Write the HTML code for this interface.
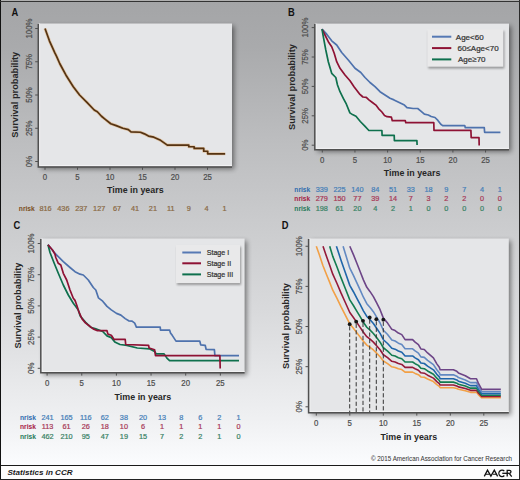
<!DOCTYPE html><html><head><meta charset="utf-8"><style>html,body{margin:0;padding:0;width:520px;height:480px;overflow:hidden;background:#fff}svg{display:block}text{font-family:"Liberation Sans",sans-serif}</style></head><body>
<svg width="520" height="480" viewBox="0 0 520 480">
<defs><linearGradient id="bg" x1="0" y1="0" x2="0" y2="1"><stop offset="0" stop-color="#a4a5a7"/><stop offset="0.1" stop-color="#a9aaac"/><stop offset="0.31" stop-color="#bdbec0"/><stop offset="0.54" stop-color="#cfd0d2"/><stop offset="0.675" stop-color="#d9dadc"/><stop offset="0.9" stop-color="#eff0f2"/><stop offset="0.957" stop-color="#f6f7f9"/><stop offset="1.0" stop-color="#fbfcfe"/></linearGradient><filter id="sh" x="-10%" y="-10%" width="130%" height="130%"><feGaussianBlur stdDeviation="2.5"/></filter><filter id="sh2" x="-10%" y="-10%" width="130%" height="130%"><feGaussianBlur stdDeviation="1.2"/></filter></defs>
<rect x="0" y="0" width="520" height="465" fill="url(#bg)"/>
<rect x="0" y="465" width="520" height="15" fill="#fdfdfd"/>
<rect x="40.9" y="26" width="193.3" height="143.1" fill="#000" opacity="0.45" filter="url(#sh)"/>
<rect x="38.7" y="23.5" width="193.3" height="143.1" fill="#e5e6e8"/>
<path d="M39.6 23.5 V165.6 H232" stroke="#f6f6f7" stroke-width="0.8" fill="none"/>
<path d="M38.3 24 V167 H232" stroke="#505050" stroke-width="1.5" fill="none"/>
<path d="M35.2 161.5 H38.2" stroke="#505050" stroke-width="1"/>
<text x="31.5" y="161.5" font-size="8.8" fill="#4d4d4d" font-weight="normal" text-anchor="middle" transform="rotate(-90 31.5 161.5)" textLength="11.32" lengthAdjust="spacingAndGlyphs" stroke="#4d4d4d" stroke-width="0.22">0%</text>
<path d="M35.2 128.25 H38.2" stroke="#505050" stroke-width="1"/>
<text x="31.5" y="128.25" font-size="8.8" fill="#4d4d4d" font-weight="normal" text-anchor="middle" transform="rotate(-90 31.5 128.25)" textLength="15.68" lengthAdjust="spacingAndGlyphs" stroke="#4d4d4d" stroke-width="0.22">25%</text>
<path d="M35.2 95 H38.2" stroke="#505050" stroke-width="1"/>
<text x="31.5" y="95" font-size="8.8" fill="#4d4d4d" font-weight="normal" text-anchor="middle" transform="rotate(-90 31.5 95)" textLength="15.68" lengthAdjust="spacingAndGlyphs" stroke="#4d4d4d" stroke-width="0.22">50%</text>
<path d="M35.2 61.75 H38.2" stroke="#505050" stroke-width="1"/>
<text x="31.5" y="61.75" font-size="8.8" fill="#4d4d4d" font-weight="normal" text-anchor="middle" transform="rotate(-90 31.5 61.75)" textLength="15.68" lengthAdjust="spacingAndGlyphs" stroke="#4d4d4d" stroke-width="0.22">75%</text>
<path d="M35.2 28.5 H38.2" stroke="#505050" stroke-width="1"/>
<text x="31.5" y="28.5" font-size="8.8" fill="#4d4d4d" font-weight="normal" text-anchor="middle" transform="rotate(-90 31.5 28.5)" textLength="20.03" lengthAdjust="spacingAndGlyphs" stroke="#4d4d4d" stroke-width="0.22">100%</text>
<path d="M45 167.2 V169.8" stroke="#505050" stroke-width="1"/>
<text x="45" y="179.65" font-size="8.8" fill="#4d4d4d" font-weight="normal" text-anchor="middle" textLength="4.36" lengthAdjust="spacingAndGlyphs" stroke="#4d4d4d" stroke-width="0.22">0</text>
<path d="M77.5 167.2 V169.8" stroke="#505050" stroke-width="1"/>
<text x="77.5" y="179.65" font-size="8.8" fill="#4d4d4d" font-weight="normal" text-anchor="middle" textLength="4.36" lengthAdjust="spacingAndGlyphs" stroke="#4d4d4d" stroke-width="0.22">5</text>
<path d="M110 167.2 V169.8" stroke="#505050" stroke-width="1"/>
<text x="110" y="179.65" font-size="8.8" fill="#4d4d4d" font-weight="normal" text-anchor="middle" textLength="8.71" lengthAdjust="spacingAndGlyphs" stroke="#4d4d4d" stroke-width="0.22">10</text>
<path d="M142.5 167.2 V169.8" stroke="#505050" stroke-width="1"/>
<text x="142.5" y="179.65" font-size="8.8" fill="#4d4d4d" font-weight="normal" text-anchor="middle" textLength="8.71" lengthAdjust="spacingAndGlyphs" stroke="#4d4d4d" stroke-width="0.22">15</text>
<path d="M175 167.2 V169.8" stroke="#505050" stroke-width="1"/>
<text x="175" y="179.65" font-size="8.8" fill="#4d4d4d" font-weight="normal" text-anchor="middle" textLength="8.71" lengthAdjust="spacingAndGlyphs" stroke="#4d4d4d" stroke-width="0.22">20</text>
<path d="M207.5 167.2 V169.8" stroke="#505050" stroke-width="1"/>
<text x="207.5" y="179.65" font-size="8.8" fill="#4d4d4d" font-weight="normal" text-anchor="middle" textLength="8.71" lengthAdjust="spacingAndGlyphs" stroke="#4d4d4d" stroke-width="0.22">25</text>
<text x="135.35" y="193" font-size="8.9" fill="#262626" font-weight="bold" text-anchor="middle">Time in years</text>
<text x="17.9" y="94.75" font-size="9.25" fill="#262626" font-weight="bold" text-anchor="middle" transform="rotate(-90 17.9 94.75)">Survival probability</text>
<text x="11.5" y="15.7" font-size="10.6" fill="#111" font-weight="bold" text-anchor="start" textLength="6.74" lengthAdjust="spacingAndGlyphs">A</text>
<polyline points="45,28.5 49.42,40.8 54.62,52.31 56.7,56.56 59.82,63.75 66,75.18 73.28,86.75 79.58,95 86.93,102.31 94.2,110.03 97.33,111.76 101.48,116.28 105.58,119.6 110.78,123.73 116.17,125.59 122.87,128.25 128.33,129.58 131,131.84 140.42,132.24 144.38,133.84 148.48,136.1 153.81,137.16 160.57,140.35 167.33,145.14 188.78,145.14 188.78,146.74 194.17,146.74 194.17,148.47 203.73,148.47 203.73,151.26 207.69,151.26 207.69,153.79 225.18,153.79" fill="none" stroke="#e0a868" stroke-width="3.1" stroke-linejoin="round" opacity="0.5"/>
<polyline points="45,28.5 49.42,40.8 54.62,52.31 56.7,56.56 59.82,63.75 66,75.18 73.28,86.75 79.58,95 86.93,102.31 94.2,110.03 97.33,111.76 101.48,116.28 105.58,119.6 110.78,123.73 116.17,125.59 122.87,128.25 128.33,129.58 131,131.84 140.42,132.24 144.38,133.84 148.48,136.1 153.81,137.16 160.57,140.35 167.33,145.14 188.78,145.14 188.78,146.74 194.17,146.74 194.17,148.47 203.73,148.47 203.73,151.26 207.69,151.26 207.69,153.79 225.18,153.79" fill="none" stroke="#553312" stroke-width="1.7" stroke-linejoin="round" stroke-linecap="butt"/>
<text x="18.8" y="211.08" font-size="6.7" fill="#7a4e22" font-weight="bold" text-anchor="start">nrisk</text>
<text x="45.5" y="211.06" font-size="7.3" fill="#8a6a45" font-weight="normal" text-anchor="middle" stroke="#8a6a45" stroke-width="0.22">816</text>
<text x="63.4" y="211.06" font-size="7.3" fill="#8a6a45" font-weight="normal" text-anchor="middle" stroke="#8a6a45" stroke-width="0.22">436</text>
<text x="81.3" y="211.06" font-size="7.3" fill="#8a6a45" font-weight="normal" text-anchor="middle" stroke="#8a6a45" stroke-width="0.22">237</text>
<text x="99.2" y="211.06" font-size="7.3" fill="#8a6a45" font-weight="normal" text-anchor="middle" stroke="#8a6a45" stroke-width="0.22">127</text>
<text x="117.1" y="211.06" font-size="7.3" fill="#8a6a45" font-weight="normal" text-anchor="middle" stroke="#8a6a45" stroke-width="0.22">67</text>
<text x="135" y="211.06" font-size="7.3" fill="#8a6a45" font-weight="normal" text-anchor="middle" stroke="#8a6a45" stroke-width="0.22">41</text>
<text x="152.9" y="211.06" font-size="7.3" fill="#8a6a45" font-weight="normal" text-anchor="middle" stroke="#8a6a45" stroke-width="0.22">21</text>
<text x="170.8" y="211.06" font-size="7.3" fill="#8a6a45" font-weight="normal" text-anchor="middle" stroke="#8a6a45" stroke-width="0.22">11</text>
<text x="188.7" y="211.06" font-size="7.3" fill="#8a6a45" font-weight="normal" text-anchor="middle" stroke="#8a6a45" stroke-width="0.22">9</text>
<text x="206.6" y="211.06" font-size="7.3" fill="#8a6a45" font-weight="normal" text-anchor="middle" stroke="#8a6a45" stroke-width="0.22">4</text>
<text x="224.5" y="211.06" font-size="7.3" fill="#8a6a45" font-weight="normal" text-anchor="middle" stroke="#8a6a45" stroke-width="0.22">1</text>
<rect x="317.4" y="26.1" width="193.8" height="125.7" fill="#000" opacity="0.45" filter="url(#sh)"/>
<rect x="315.2" y="23.6" width="193.8" height="125.7" fill="#e5e6e8"/>
<path d="M316.1 23.6 V148.3 H509" stroke="#f6f6f7" stroke-width="0.8" fill="none"/>
<path d="M314.8 24.1 V149.7 H509" stroke="#505050" stroke-width="1.5" fill="none"/>
<path d="M311.7 145.2 H314.7" stroke="#505050" stroke-width="1"/>
<text x="308.15" y="145.2" font-size="8.8" fill="#4d4d4d" font-weight="normal" text-anchor="middle" transform="rotate(-90 308.15 145.2)" textLength="11.32" lengthAdjust="spacingAndGlyphs" stroke="#4d4d4d" stroke-width="0.22">0%</text>
<path d="M311.7 115.8 H314.7" stroke="#505050" stroke-width="1"/>
<text x="308.15" y="115.8" font-size="8.8" fill="#4d4d4d" font-weight="normal" text-anchor="middle" transform="rotate(-90 308.15 115.8)" textLength="15.68" lengthAdjust="spacingAndGlyphs" stroke="#4d4d4d" stroke-width="0.22">25%</text>
<path d="M311.7 86.4 H314.7" stroke="#505050" stroke-width="1"/>
<text x="308.15" y="86.4" font-size="8.8" fill="#4d4d4d" font-weight="normal" text-anchor="middle" transform="rotate(-90 308.15 86.4)" textLength="15.68" lengthAdjust="spacingAndGlyphs" stroke="#4d4d4d" stroke-width="0.22">50%</text>
<path d="M311.7 57 H314.7" stroke="#505050" stroke-width="1"/>
<text x="308.15" y="57" font-size="8.8" fill="#4d4d4d" font-weight="normal" text-anchor="middle" transform="rotate(-90 308.15 57)" textLength="15.68" lengthAdjust="spacingAndGlyphs" stroke="#4d4d4d" stroke-width="0.22">75%</text>
<path d="M311.7 27.6 H314.7" stroke="#505050" stroke-width="1"/>
<text x="308.15" y="27.6" font-size="8.8" fill="#4d4d4d" font-weight="normal" text-anchor="middle" transform="rotate(-90 308.15 27.6)" textLength="20.03" lengthAdjust="spacingAndGlyphs" stroke="#4d4d4d" stroke-width="0.22">100%</text>
<path d="M322.3 149.9 V152.5" stroke="#505050" stroke-width="1"/>
<text x="322.3" y="162.95" font-size="8.8" fill="#4d4d4d" font-weight="normal" text-anchor="middle" textLength="4.36" lengthAdjust="spacingAndGlyphs" stroke="#4d4d4d" stroke-width="0.22">0</text>
<path d="M354.95 149.9 V152.5" stroke="#505050" stroke-width="1"/>
<text x="354.95" y="162.95" font-size="8.8" fill="#4d4d4d" font-weight="normal" text-anchor="middle" textLength="4.36" lengthAdjust="spacingAndGlyphs" stroke="#4d4d4d" stroke-width="0.22">5</text>
<path d="M387.6 149.9 V152.5" stroke="#505050" stroke-width="1"/>
<text x="387.6" y="162.95" font-size="8.8" fill="#4d4d4d" font-weight="normal" text-anchor="middle" textLength="8.71" lengthAdjust="spacingAndGlyphs" stroke="#4d4d4d" stroke-width="0.22">10</text>
<path d="M420.25 149.9 V152.5" stroke="#505050" stroke-width="1"/>
<text x="420.25" y="162.95" font-size="8.8" fill="#4d4d4d" font-weight="normal" text-anchor="middle" textLength="8.71" lengthAdjust="spacingAndGlyphs" stroke="#4d4d4d" stroke-width="0.22">15</text>
<path d="M452.9 149.9 V152.5" stroke="#505050" stroke-width="1"/>
<text x="452.9" y="162.95" font-size="8.8" fill="#4d4d4d" font-weight="normal" text-anchor="middle" textLength="8.71" lengthAdjust="spacingAndGlyphs" stroke="#4d4d4d" stroke-width="0.22">20</text>
<path d="M485.55 149.9 V152.5" stroke="#505050" stroke-width="1"/>
<text x="485.55" y="162.95" font-size="8.8" fill="#4d4d4d" font-weight="normal" text-anchor="middle" textLength="8.71" lengthAdjust="spacingAndGlyphs" stroke="#4d4d4d" stroke-width="0.22">25</text>
<text x="412.1" y="175.8" font-size="8.9" fill="#262626" font-weight="bold" text-anchor="middle">Time in years</text>
<text x="294.6" y="87.05" font-size="9.25" fill="#262626" font-weight="bold" text-anchor="middle" transform="rotate(-90 294.6 87.05)">Survival probability</text>
<text x="288" y="15.6" font-size="10.6" fill="#111" font-weight="bold" text-anchor="start" textLength="6.74" lengthAdjust="spacingAndGlyphs">B</text>
<polyline points="322,29.2 326.7,34.2 331.7,40.8 336.7,45 341.7,52.5 348.3,60 355,68.3 360.8,72.5 365,77.5 370,82.5 375,86.7 380,91.7 385,95 390,98.3 394,99.9 399.2,102.5 404.4,105.1 407,107.7 413.1,108.5 417.7,108.5 420.6,110.8 424.4,114.2 428.3,115 431.2,116.5 435,117.5 437.9,120.4 440.8,124.2 442.7,125.6 464.8,125.6 465.3,127.7 484.3,127.7 484.6,132.3 500.4,132.3" fill="none" stroke="#4e72ad" stroke-width="1.7" stroke-linejoin="round"/>
<polyline points="322,29.2 325,35 328.3,41.7 331.7,46.7 334.2,53.3 336.7,61.7 340,68.3 345,75 350,80.8 354.2,86.9 359.4,93.8 362.9,97 366.3,97.3 368.9,99.9 372.4,102.5 375.9,105.1 378.5,108.6 381.9,112 384.5,115.5 387.1,116.7 391.4,117.2 392.3,120.7 405.3,120.7 405.8,122.7 433.8,122.7 434,130.4 470.9,130.4 471.2,137.7 479,137.7 479.2,145.4" fill="none" stroke="#8e1234" stroke-width="1.7" stroke-linejoin="round"/>
<polyline points="322,29.2 323.3,36.7 325.8,50 328.3,61.7 331.7,73.3 335.8,77.5 337.5,85 340,91.7 343.3,98.3 346.4,104.2 349.9,112.9 352.5,114.6 356,116.3 360.3,121.5 364.6,125.9 368.9,130.5 381.9,130.5 382.1,135.4 394.2,135.4 394.4,140.6 416.9,140.6 417.1,145" fill="none" stroke="#0e704d" stroke-width="1.7" stroke-linejoin="round"/>
<rect x="428.3" y="31" width="76" height="37.5" fill="#000" opacity="0.35" filter="url(#sh2)"/>
<rect x="427.3" y="29.2" width="76" height="37.5" fill="#e9e9ea"/>
<path d="M432 36.7 H451.3" stroke="#5679b4" stroke-width="2"/>
<text x="455.8" y="39.58" font-size="8" fill="#333" font-weight="normal" text-anchor="start" stroke="#333" stroke-width="0.22">Age&lt;60</text>
<path d="M432 48.1 H451.3" stroke="#8e1234" stroke-width="2"/>
<text x="457.5" y="50.98" font-size="8" fill="#333" font-weight="normal" text-anchor="start" stroke="#333" stroke-width="0.22">60≤Age&lt;70</text>
<path d="M432 59.4 H451.3" stroke="#0e704d" stroke-width="2"/>
<text x="458" y="62.28" font-size="8" fill="#333" font-weight="normal" text-anchor="start" stroke="#333" stroke-width="0.22">Age≥70</text>
<text x="294.3" y="191.53" font-size="6.7" fill="#2f6cae" font-weight="bold" text-anchor="start">nrisk</text>
<text x="321.8" y="191.51" font-size="7.3" fill="#4680b8" font-weight="normal" text-anchor="middle" stroke="#4680b8" stroke-width="0.22">339</text>
<text x="339.6" y="191.51" font-size="7.3" fill="#4680b8" font-weight="normal" text-anchor="middle" stroke="#4680b8" stroke-width="0.22">225</text>
<text x="357.4" y="191.51" font-size="7.3" fill="#4680b8" font-weight="normal" text-anchor="middle" stroke="#4680b8" stroke-width="0.22">140</text>
<text x="375.2" y="191.51" font-size="7.3" fill="#4680b8" font-weight="normal" text-anchor="middle" stroke="#4680b8" stroke-width="0.22">84</text>
<text x="393" y="191.51" font-size="7.3" fill="#4680b8" font-weight="normal" text-anchor="middle" stroke="#4680b8" stroke-width="0.22">51</text>
<text x="410.8" y="191.51" font-size="7.3" fill="#4680b8" font-weight="normal" text-anchor="middle" stroke="#4680b8" stroke-width="0.22">33</text>
<text x="428.6" y="191.51" font-size="7.3" fill="#4680b8" font-weight="normal" text-anchor="middle" stroke="#4680b8" stroke-width="0.22">18</text>
<text x="446.4" y="191.51" font-size="7.3" fill="#4680b8" font-weight="normal" text-anchor="middle" stroke="#4680b8" stroke-width="0.22">9</text>
<text x="464.2" y="191.51" font-size="7.3" fill="#4680b8" font-weight="normal" text-anchor="middle" stroke="#4680b8" stroke-width="0.22">7</text>
<text x="482" y="191.51" font-size="7.3" fill="#4680b8" font-weight="normal" text-anchor="middle" stroke="#4680b8" stroke-width="0.22">4</text>
<text x="499.8" y="191.51" font-size="7.3" fill="#4680b8" font-weight="normal" text-anchor="middle" stroke="#4680b8" stroke-width="0.22">1</text>
<text x="294.3" y="201.43" font-size="6.7" fill="#a51c45" font-weight="bold" text-anchor="start">nrisk</text>
<text x="321.8" y="201.41" font-size="7.3" fill="#a83a58" font-weight="normal" text-anchor="middle" stroke="#a83a58" stroke-width="0.22">279</text>
<text x="339.6" y="201.41" font-size="7.3" fill="#a83a58" font-weight="normal" text-anchor="middle" stroke="#a83a58" stroke-width="0.22">150</text>
<text x="357.4" y="201.41" font-size="7.3" fill="#a83a58" font-weight="normal" text-anchor="middle" stroke="#a83a58" stroke-width="0.22">77</text>
<text x="375.2" y="201.41" font-size="7.3" fill="#a83a58" font-weight="normal" text-anchor="middle" stroke="#a83a58" stroke-width="0.22">39</text>
<text x="393" y="201.41" font-size="7.3" fill="#a83a58" font-weight="normal" text-anchor="middle" stroke="#a83a58" stroke-width="0.22">14</text>
<text x="410.8" y="201.41" font-size="7.3" fill="#a83a58" font-weight="normal" text-anchor="middle" stroke="#a83a58" stroke-width="0.22">7</text>
<text x="428.6" y="201.41" font-size="7.3" fill="#a83a58" font-weight="normal" text-anchor="middle" stroke="#a83a58" stroke-width="0.22">3</text>
<text x="446.4" y="201.41" font-size="7.3" fill="#a83a58" font-weight="normal" text-anchor="middle" stroke="#a83a58" stroke-width="0.22">2</text>
<text x="464.2" y="201.41" font-size="7.3" fill="#a83a58" font-weight="normal" text-anchor="middle" stroke="#a83a58" stroke-width="0.22">2</text>
<text x="482" y="201.41" font-size="7.3" fill="#a83a58" font-weight="normal" text-anchor="middle" stroke="#a83a58" stroke-width="0.22">0</text>
<text x="499.8" y="201.41" font-size="7.3" fill="#a83a58" font-weight="normal" text-anchor="middle" stroke="#a83a58" stroke-width="0.22">0</text>
<text x="294.3" y="211.33" font-size="6.7" fill="#277a5a" font-weight="bold" text-anchor="start">nrisk</text>
<text x="321.8" y="211.31" font-size="7.3" fill="#3a8366" font-weight="normal" text-anchor="middle" stroke="#3a8366" stroke-width="0.22">198</text>
<text x="339.6" y="211.31" font-size="7.3" fill="#3a8366" font-weight="normal" text-anchor="middle" stroke="#3a8366" stroke-width="0.22">61</text>
<text x="357.4" y="211.31" font-size="7.3" fill="#3a8366" font-weight="normal" text-anchor="middle" stroke="#3a8366" stroke-width="0.22">20</text>
<text x="375.2" y="211.31" font-size="7.3" fill="#3a8366" font-weight="normal" text-anchor="middle" stroke="#3a8366" stroke-width="0.22">4</text>
<text x="393" y="211.31" font-size="7.3" fill="#3a8366" font-weight="normal" text-anchor="middle" stroke="#3a8366" stroke-width="0.22">2</text>
<text x="410.8" y="211.31" font-size="7.3" fill="#3a8366" font-weight="normal" text-anchor="middle" stroke="#3a8366" stroke-width="0.22">1</text>
<text x="428.6" y="211.31" font-size="7.3" fill="#3a8366" font-weight="normal" text-anchor="middle" stroke="#3a8366" stroke-width="0.22">0</text>
<text x="446.4" y="211.31" font-size="7.3" fill="#3a8366" font-weight="normal" text-anchor="middle" stroke="#3a8366" stroke-width="0.22">0</text>
<text x="464.2" y="211.31" font-size="7.3" fill="#3a8366" font-weight="normal" text-anchor="middle" stroke="#3a8366" stroke-width="0.22">0</text>
<text x="482" y="211.31" font-size="7.3" fill="#3a8366" font-weight="normal" text-anchor="middle" stroke="#3a8366" stroke-width="0.22">0</text>
<text x="499.8" y="211.31" font-size="7.3" fill="#3a8366" font-weight="normal" text-anchor="middle" stroke="#3a8366" stroke-width="0.22">0</text>
<rect x="43.4" y="241" width="203.4" height="133.9" fill="#000" opacity="0.45" filter="url(#sh)"/>
<rect x="41.2" y="238.5" width="203.4" height="133.9" fill="#e5e6e8"/>
<path d="M42.1 238.5 V371.4 H244.6" stroke="#f6f6f7" stroke-width="0.8" fill="none"/>
<path d="M40.8 239 V372.8 H244.6" stroke="#505050" stroke-width="1.5" fill="none"/>
<path d="M37.7 368.3 H40.7" stroke="#505050" stroke-width="1"/>
<text x="33.95" y="368.3" font-size="8.8" fill="#4d4d4d" font-weight="normal" text-anchor="middle" transform="rotate(-90 33.95 368.3)" textLength="11.32" lengthAdjust="spacingAndGlyphs" stroke="#4d4d4d" stroke-width="0.22">0%</text>
<path d="M37.7 337.1 H40.7" stroke="#505050" stroke-width="1"/>
<text x="33.95" y="337.1" font-size="8.8" fill="#4d4d4d" font-weight="normal" text-anchor="middle" transform="rotate(-90 33.95 337.1)" textLength="15.68" lengthAdjust="spacingAndGlyphs" stroke="#4d4d4d" stroke-width="0.22">25%</text>
<path d="M37.7 305.9 H40.7" stroke="#505050" stroke-width="1"/>
<text x="33.95" y="305.9" font-size="8.8" fill="#4d4d4d" font-weight="normal" text-anchor="middle" transform="rotate(-90 33.95 305.9)" textLength="15.68" lengthAdjust="spacingAndGlyphs" stroke="#4d4d4d" stroke-width="0.22">50%</text>
<path d="M37.7 274.7 H40.7" stroke="#505050" stroke-width="1"/>
<text x="33.95" y="274.7" font-size="8.8" fill="#4d4d4d" font-weight="normal" text-anchor="middle" transform="rotate(-90 33.95 274.7)" textLength="15.68" lengthAdjust="spacingAndGlyphs" stroke="#4d4d4d" stroke-width="0.22">75%</text>
<path d="M37.7 243.5 H40.7" stroke="#505050" stroke-width="1"/>
<text x="33.95" y="243.5" font-size="8.8" fill="#4d4d4d" font-weight="normal" text-anchor="middle" transform="rotate(-90 33.95 243.5)" textLength="20.03" lengthAdjust="spacingAndGlyphs" stroke="#4d4d4d" stroke-width="0.22">100%</text>
<path d="M47.1 373 V375.6" stroke="#505050" stroke-width="1"/>
<text x="47.1" y="386.45" font-size="8.8" fill="#4d4d4d" font-weight="normal" text-anchor="middle" textLength="4.36" lengthAdjust="spacingAndGlyphs" stroke="#4d4d4d" stroke-width="0.22">0</text>
<path d="M81.75 373 V375.6" stroke="#505050" stroke-width="1"/>
<text x="81.75" y="386.45" font-size="8.8" fill="#4d4d4d" font-weight="normal" text-anchor="middle" textLength="4.36" lengthAdjust="spacingAndGlyphs" stroke="#4d4d4d" stroke-width="0.22">5</text>
<path d="M116.4 373 V375.6" stroke="#505050" stroke-width="1"/>
<text x="116.4" y="386.45" font-size="8.8" fill="#4d4d4d" font-weight="normal" text-anchor="middle" textLength="8.71" lengthAdjust="spacingAndGlyphs" stroke="#4d4d4d" stroke-width="0.22">10</text>
<path d="M151.05 373 V375.6" stroke="#505050" stroke-width="1"/>
<text x="151.05" y="386.45" font-size="8.8" fill="#4d4d4d" font-weight="normal" text-anchor="middle" textLength="8.71" lengthAdjust="spacingAndGlyphs" stroke="#4d4d4d" stroke-width="0.22">15</text>
<path d="M185.7 373 V375.6" stroke="#505050" stroke-width="1"/>
<text x="185.7" y="386.45" font-size="8.8" fill="#4d4d4d" font-weight="normal" text-anchor="middle" textLength="8.71" lengthAdjust="spacingAndGlyphs" stroke="#4d4d4d" stroke-width="0.22">20</text>
<path d="M220.35 373 V375.6" stroke="#505050" stroke-width="1"/>
<text x="220.35" y="386.45" font-size="8.8" fill="#4d4d4d" font-weight="normal" text-anchor="middle" textLength="8.71" lengthAdjust="spacingAndGlyphs" stroke="#4d4d4d" stroke-width="0.22">25</text>
<text x="142.9" y="400.1" font-size="8.9" fill="#262626" font-weight="bold" text-anchor="middle">Time in years</text>
<text x="21" y="305.55" font-size="9.25" fill="#262626" font-weight="bold" text-anchor="middle" transform="rotate(-90 21 305.55)">Survival probability</text>
<text x="13.4" y="229" font-size="10.6" fill="#111" font-weight="bold" text-anchor="start" textLength="6.74" lengthAdjust="spacingAndGlyphs">C</text>
<polyline points="48,244.7 51.7,249.2 55.8,254.2 58.3,256.7 63.3,261.7 70,267.5 75,271.7 80,274.2 83.3,275 88.3,280 93.3,287.5 95.8,290 98.4,297.8 102.7,301.2 107,306.4 111.3,309.9 116.5,313.4 120.9,315.1 125.2,318.6 128.7,320.8 132.1,321.2 134.7,323.2 136.4,327.2 160.2,327.2 160.5,330.1 169.6,330.1 170.5,332.9 172.4,335.6 174.2,338.4 176,341.1 199.8,341.1 200.7,344.8 205.2,345.3 206.1,349.3 214.4,349.7 214.9,355.7 239,355.7" fill="none" stroke="#4e72ad" stroke-width="1.7" stroke-linejoin="round"/>
<polyline points="48,244.7 50,252.5 54.2,263.3 58.3,273.3 63.3,285 68.3,295 73.3,303.3 75,305.6 78.3,310 80.2,316 85.4,322 90.6,327.2 95.8,328.9 102.7,331.5 107,335.9 111.3,337.6 114.8,341.9 120,344.5 126.9,345.4 137.3,348 149.4,348.8 154.6,351.4 156.3,353.9 164.1,353.9 166.9,358.1 169.6,360.7 239,360.7" fill="none" stroke="#0e704d" stroke-width="1.7" stroke-linejoin="round"/>
<polyline points="48,244.7 52.5,250 55,254.2 55.8,257.5 58.3,263.3 60.8,265 63.3,273.3 66.7,280 70,290 73.3,298.3 75,300.4 76.7,305 78.5,310.8 81.9,318.6 85.4,322.9 88.8,325.5 93.2,328.9 97.5,330.7 107,330.7 107.9,334.1 111.3,335.3 113.9,339.3 125.2,339.3 125.7,344.5 148.6,345.4 149.1,348 154.6,349.7 155.5,355.7 219.9,355.7 220.2,368.5" fill="none" stroke="#8e1234" stroke-width="1.7" stroke-linejoin="round"/>
<rect x="177" y="246.8" width="64" height="38.1" fill="#000" opacity="0.35" filter="url(#sh2)"/>
<rect x="176" y="245" width="64" height="38.1" fill="#e9e9ea"/>
<path d="M182.3 252.5 H201" stroke="#5679b4" stroke-width="2"/>
<text x="206.7" y="255.06" font-size="7.1" fill="#333" font-weight="normal" text-anchor="start" stroke="#333" stroke-width="0.22">Stage I</text>
<path d="M182.3 263.3 H201" stroke="#8e1234" stroke-width="2"/>
<text x="206.7" y="265.86" font-size="7.1" fill="#333" font-weight="normal" text-anchor="start" stroke="#333" stroke-width="0.22">Stage II</text>
<path d="M182.3 274.4 H201" stroke="#0e704d" stroke-width="2"/>
<text x="206.7" y="276.96" font-size="7.1" fill="#333" font-weight="normal" text-anchor="start" stroke="#333" stroke-width="0.22">Stage III</text>
<text x="20" y="419.73" font-size="6.7" fill="#2f6cae" font-weight="bold" text-anchor="start">nrisk</text>
<text x="47.5" y="419.71" font-size="7.3" fill="#4680b8" font-weight="normal" text-anchor="middle" stroke="#4680b8" stroke-width="0.22">241</text>
<text x="66.6" y="419.71" font-size="7.3" fill="#4680b8" font-weight="normal" text-anchor="middle" stroke="#4680b8" stroke-width="0.22">165</text>
<text x="85.7" y="419.71" font-size="7.3" fill="#4680b8" font-weight="normal" text-anchor="middle" stroke="#4680b8" stroke-width="0.22">116</text>
<text x="104.8" y="419.71" font-size="7.3" fill="#4680b8" font-weight="normal" text-anchor="middle" stroke="#4680b8" stroke-width="0.22">62</text>
<text x="123.9" y="419.71" font-size="7.3" fill="#4680b8" font-weight="normal" text-anchor="middle" stroke="#4680b8" stroke-width="0.22">38</text>
<text x="143" y="419.71" font-size="7.3" fill="#4680b8" font-weight="normal" text-anchor="middle" stroke="#4680b8" stroke-width="0.22">20</text>
<text x="162.1" y="419.71" font-size="7.3" fill="#4680b8" font-weight="normal" text-anchor="middle" stroke="#4680b8" stroke-width="0.22">13</text>
<text x="181.2" y="419.71" font-size="7.3" fill="#4680b8" font-weight="normal" text-anchor="middle" stroke="#4680b8" stroke-width="0.22">8</text>
<text x="200.3" y="419.71" font-size="7.3" fill="#4680b8" font-weight="normal" text-anchor="middle" stroke="#4680b8" stroke-width="0.22">6</text>
<text x="219.4" y="419.71" font-size="7.3" fill="#4680b8" font-weight="normal" text-anchor="middle" stroke="#4680b8" stroke-width="0.22">2</text>
<text x="238.5" y="419.71" font-size="7.3" fill="#4680b8" font-weight="normal" text-anchor="middle" stroke="#4680b8" stroke-width="0.22">1</text>
<text x="20" y="429.33" font-size="6.7" fill="#a51c45" font-weight="bold" text-anchor="start">nrisk</text>
<text x="47.5" y="429.31" font-size="7.3" fill="#a83a58" font-weight="normal" text-anchor="middle" stroke="#a83a58" stroke-width="0.22">113</text>
<text x="66.6" y="429.31" font-size="7.3" fill="#a83a58" font-weight="normal" text-anchor="middle" stroke="#a83a58" stroke-width="0.22">61</text>
<text x="85.7" y="429.31" font-size="7.3" fill="#a83a58" font-weight="normal" text-anchor="middle" stroke="#a83a58" stroke-width="0.22">26</text>
<text x="104.8" y="429.31" font-size="7.3" fill="#a83a58" font-weight="normal" text-anchor="middle" stroke="#a83a58" stroke-width="0.22">18</text>
<text x="123.9" y="429.31" font-size="7.3" fill="#a83a58" font-weight="normal" text-anchor="middle" stroke="#a83a58" stroke-width="0.22">10</text>
<text x="143" y="429.31" font-size="7.3" fill="#a83a58" font-weight="normal" text-anchor="middle" stroke="#a83a58" stroke-width="0.22">6</text>
<text x="162.1" y="429.31" font-size="7.3" fill="#a83a58" font-weight="normal" text-anchor="middle" stroke="#a83a58" stroke-width="0.22">1</text>
<text x="181.2" y="429.31" font-size="7.3" fill="#a83a58" font-weight="normal" text-anchor="middle" stroke="#a83a58" stroke-width="0.22">1</text>
<text x="200.3" y="429.31" font-size="7.3" fill="#a83a58" font-weight="normal" text-anchor="middle" stroke="#a83a58" stroke-width="0.22">1</text>
<text x="219.4" y="429.31" font-size="7.3" fill="#a83a58" font-weight="normal" text-anchor="middle" stroke="#a83a58" stroke-width="0.22">1</text>
<text x="238.5" y="429.31" font-size="7.3" fill="#a83a58" font-weight="normal" text-anchor="middle" stroke="#a83a58" stroke-width="0.22">0</text>
<text x="20" y="439.23" font-size="6.7" fill="#277a5a" font-weight="bold" text-anchor="start">nrisk</text>
<text x="47.5" y="439.21" font-size="7.3" fill="#3a8366" font-weight="normal" text-anchor="middle" stroke="#3a8366" stroke-width="0.22">462</text>
<text x="66.6" y="439.21" font-size="7.3" fill="#3a8366" font-weight="normal" text-anchor="middle" stroke="#3a8366" stroke-width="0.22">210</text>
<text x="85.7" y="439.21" font-size="7.3" fill="#3a8366" font-weight="normal" text-anchor="middle" stroke="#3a8366" stroke-width="0.22">95</text>
<text x="104.8" y="439.21" font-size="7.3" fill="#3a8366" font-weight="normal" text-anchor="middle" stroke="#3a8366" stroke-width="0.22">47</text>
<text x="123.9" y="439.21" font-size="7.3" fill="#3a8366" font-weight="normal" text-anchor="middle" stroke="#3a8366" stroke-width="0.22">19</text>
<text x="143" y="439.21" font-size="7.3" fill="#3a8366" font-weight="normal" text-anchor="middle" stroke="#3a8366" stroke-width="0.22">15</text>
<text x="162.1" y="439.21" font-size="7.3" fill="#3a8366" font-weight="normal" text-anchor="middle" stroke="#3a8366" stroke-width="0.22">7</text>
<text x="181.2" y="439.21" font-size="7.3" fill="#3a8366" font-weight="normal" text-anchor="middle" stroke="#3a8366" stroke-width="0.22">2</text>
<text x="200.3" y="439.21" font-size="7.3" fill="#3a8366" font-weight="normal" text-anchor="middle" stroke="#3a8366" stroke-width="0.22">2</text>
<text x="219.4" y="439.21" font-size="7.3" fill="#3a8366" font-weight="normal" text-anchor="middle" stroke="#3a8366" stroke-width="0.22">1</text>
<text x="238.5" y="439.21" font-size="7.3" fill="#3a8366" font-weight="normal" text-anchor="middle" stroke="#3a8366" stroke-width="0.22">0</text>
<rect x="311.2" y="241" width="199.8" height="173.9" fill="#000" opacity="0.45" filter="url(#sh)"/>
<rect x="309" y="238.5" width="199.8" height="173.9" fill="#e5e6e8"/>
<path d="M309.9 238.5 V411.4 H508.8" stroke="#f6f6f7" stroke-width="0.8" fill="none"/>
<path d="M308.6 239 V412.8 H508.8" stroke="#505050" stroke-width="1.5" fill="none"/>
<path d="M305.5 406.8 H308.5" stroke="#505050" stroke-width="1"/>
<text x="302.45" y="406.8" font-size="8.8" fill="#4d4d4d" font-weight="normal" text-anchor="middle" transform="rotate(-90 302.45 406.8)" textLength="11.32" lengthAdjust="spacingAndGlyphs" stroke="#4d4d4d" stroke-width="0.22">0%</text>
<path d="M305.5 366.66 H308.5" stroke="#505050" stroke-width="1"/>
<text x="302.45" y="366.66" font-size="8.8" fill="#4d4d4d" font-weight="normal" text-anchor="middle" transform="rotate(-90 302.45 366.66)" textLength="15.68" lengthAdjust="spacingAndGlyphs" stroke="#4d4d4d" stroke-width="0.22">25%</text>
<path d="M305.5 326.52 H308.5" stroke="#505050" stroke-width="1"/>
<text x="302.45" y="326.52" font-size="8.8" fill="#4d4d4d" font-weight="normal" text-anchor="middle" transform="rotate(-90 302.45 326.52)" textLength="15.68" lengthAdjust="spacingAndGlyphs" stroke="#4d4d4d" stroke-width="0.22">50%</text>
<path d="M305.5 286.39 H308.5" stroke="#505050" stroke-width="1"/>
<text x="302.45" y="286.39" font-size="8.8" fill="#4d4d4d" font-weight="normal" text-anchor="middle" transform="rotate(-90 302.45 286.39)" textLength="15.68" lengthAdjust="spacingAndGlyphs" stroke="#4d4d4d" stroke-width="0.22">75%</text>
<path d="M305.5 246.25 H308.5" stroke="#505050" stroke-width="1"/>
<text x="302.45" y="246.25" font-size="8.8" fill="#4d4d4d" font-weight="normal" text-anchor="middle" transform="rotate(-90 302.45 246.25)" textLength="20.03" lengthAdjust="spacingAndGlyphs" stroke="#4d4d4d" stroke-width="0.22">100%</text>
<path d="M316.3 413 V415.6" stroke="#505050" stroke-width="1"/>
<text x="316.3" y="426.45" font-size="8.8" fill="#4d4d4d" font-weight="normal" text-anchor="middle" textLength="4.36" lengthAdjust="spacingAndGlyphs" stroke="#4d4d4d" stroke-width="0.22">0</text>
<path d="M349.8 413 V415.6" stroke="#505050" stroke-width="1"/>
<text x="349.8" y="426.45" font-size="8.8" fill="#4d4d4d" font-weight="normal" text-anchor="middle" textLength="4.36" lengthAdjust="spacingAndGlyphs" stroke="#4d4d4d" stroke-width="0.22">5</text>
<path d="M383.3 413 V415.6" stroke="#505050" stroke-width="1"/>
<text x="383.3" y="426.45" font-size="8.8" fill="#4d4d4d" font-weight="normal" text-anchor="middle" textLength="8.71" lengthAdjust="spacingAndGlyphs" stroke="#4d4d4d" stroke-width="0.22">10</text>
<path d="M416.8 413 V415.6" stroke="#505050" stroke-width="1"/>
<text x="416.8" y="426.45" font-size="8.8" fill="#4d4d4d" font-weight="normal" text-anchor="middle" textLength="8.71" lengthAdjust="spacingAndGlyphs" stroke="#4d4d4d" stroke-width="0.22">15</text>
<path d="M450.3 413 V415.6" stroke="#505050" stroke-width="1"/>
<text x="450.3" y="426.45" font-size="8.8" fill="#4d4d4d" font-weight="normal" text-anchor="middle" textLength="8.71" lengthAdjust="spacingAndGlyphs" stroke="#4d4d4d" stroke-width="0.22">20</text>
<path d="M483.8 413 V415.6" stroke="#505050" stroke-width="1"/>
<text x="483.8" y="426.45" font-size="8.8" fill="#4d4d4d" font-weight="normal" text-anchor="middle" textLength="8.71" lengthAdjust="spacingAndGlyphs" stroke="#4d4d4d" stroke-width="0.22">25</text>
<text x="408.9" y="439.8" font-size="8.9" fill="#262626" font-weight="bold" text-anchor="middle">Time in years</text>
<text x="289" y="326.05" font-size="9.25" fill="#262626" font-weight="bold" text-anchor="middle" transform="rotate(-90 289 326.05)">Survival probability</text>
<text x="281.8" y="228.8" font-size="10.6" fill="#111" font-weight="bold" text-anchor="start" textLength="6.74" lengthAdjust="spacingAndGlyphs">D</text>
<polyline points="316.3,246.25 319.52,255.24 322.8,265.19 326.08,273.54 329.5,281.89 332.78,290.24 337,298.43 341.09,306.94 345.31,315.13 349.8,323.96 353.42,328.29 356.77,332.63 360.12,336.96 363.4,341.3 366.82,345.15 370.1,347.4 373.38,349.97 376.8,353.34 380.08,356.71 383.37,361.04 387.59,363.61 391.81,366.82 395.09,367.47 398.38,368.75 401.79,369.55 405.08,372.12 412.58,372.12 415.12,373.41 418.41,374.69 420.89,376.94 424.3,377.26 427.59,379.02 433.42,381.59 436.83,384.64 439.31,386.41 440.12,387.69 453.38,387.69 456.8,388.5 458.41,389.3 465.31,390.75 470.47,392.35 476.5,392.35 478.31,394.6 481.72,397.81 500.82,397.81" fill="none" stroke="#f2a046" stroke-width="1.6" stroke-linejoin="round" stroke-linecap="butt"/>
<polyline points="323,246.25 326.08,255.17 329.5,264.67 332.78,274.17 337,283.48 341.09,293.17 345.31,302.48 349.8,312.53 353.42,317.47 356.77,322.4 360.12,327.33 363.4,332.26 366.82,336.65 370.1,339.21 373.38,342.13 376.8,345.96 380.08,349.8 383.37,354.73 387.59,357.66 391.81,361.31 395.09,362.04 398.38,363.5 401.79,364.42 405.08,367.34 412.58,367.34 415.12,368.8 418.41,370.26 420.89,372.82 424.3,373.19 427.59,375.19 433.42,378.12 436.83,381.59 439.31,383.6 440.12,385.06 453.38,385.06 456.8,385.97 458.41,386.89 465.31,388.53 470.47,390.36 476.5,390.36 478.31,392.92 481.72,396.57 500.82,396.57" fill="none" stroke="#951a3a" stroke-width="1.6" stroke-linejoin="round" stroke-linecap="butt"/>
<polyline points="329.7,246.25 332.78,256.37 337,266.93 341.09,277.92 345.31,288.48 349.8,299.88 353.42,305.47 356.77,311.07 360.12,316.66 363.4,322.26 366.82,327.23 370.1,330.13 373.38,333.45 376.8,337.8 380.08,342.15 383.37,347.75 387.59,351.06 391.81,355.2 395.09,356.03 398.38,357.69 401.79,358.73 405.08,362.04 412.58,362.04 415.12,363.7 418.41,365.36 420.89,368.26 424.3,368.67 427.59,370.95 433.42,374.27 436.83,378.2 439.31,380.48 440.12,382.14 453.38,382.14 456.8,383.18 458.41,384.21 465.31,386.08 470.47,388.15 476.5,388.15 478.31,391.05 481.72,395.2 500.82,395.2" fill="none" stroke="#137c50" stroke-width="1.6" stroke-linejoin="round" stroke-linecap="butt"/>
<polyline points="336.4,246.25 337,247.96 341.09,260.44 345.31,272.44 349.8,285.38 353.42,291.73 356.77,298.09 360.12,304.44 363.4,310.79 366.82,316.44 370.1,319.73 373.38,323.5 376.8,328.44 380.08,333.38 383.37,339.74 387.59,343.5 391.81,348.21 395.09,349.15 398.38,351.03 401.79,352.21 405.08,355.97 412.58,355.97 415.12,357.86 418.41,359.74 420.89,363.03 424.3,363.5 427.59,366.09 433.42,369.86 436.83,374.33 439.31,376.92 440.12,378.8 453.38,378.8 456.8,379.97 458.41,381.15 465.31,383.27 470.47,385.62 476.5,385.62 478.31,388.92 481.72,393.62 500.82,393.62" fill="none" stroke="#2066aa" stroke-width="1.6" stroke-linejoin="round" stroke-linecap="butt"/>
<polyline points="343.1,246.25 345.31,253.43 349.8,268.2 353.42,275.45 356.77,282.7 360.12,289.96 363.4,297.21 366.82,303.66 370.1,307.42 373.38,311.71 376.8,317.35 380.08,322.99 383.37,330.25 387.59,334.54 391.81,339.92 395.09,340.99 398.38,343.14 401.79,344.48 405.08,348.78 412.58,348.78 415.12,350.93 418.41,353.08 420.89,356.84 424.3,357.38 427.59,360.33 433.42,364.63 436.83,369.73 439.31,372.69 440.12,374.84 453.38,374.84 456.8,376.18 458.41,377.52 465.31,379.94 470.47,382.63 476.5,382.63 478.31,386.39 481.72,391.76 500.82,391.76" fill="none" stroke="#6289c2" stroke-width="1.6" stroke-linejoin="round" stroke-linecap="butt"/>
<polyline points="349.8,246.25 353.42,254.65 356.77,263.05 360.12,271.45 363.4,279.85 366.82,287.32 370.1,291.68 373.38,296.66 376.8,303.19 380.08,309.72 383.37,318.12 387.59,323.1 391.81,329.33 395.09,330.57 398.38,333.06 401.79,334.61 405.08,339.59 412.58,339.59 415.12,342.08 418.41,344.57 420.89,348.93 424.3,349.55 427.59,352.97 433.42,357.95 436.83,363.86 439.31,367.28 440.12,369.77 453.38,369.77 456.8,371.33 458.41,372.89 465.31,375.69 470.47,378.8 476.5,378.8 478.31,383.15 481.72,389.38 500.82,389.38" fill="none" stroke="#6d4587" stroke-width="1.6" stroke-linejoin="round" stroke-linecap="butt"/>
<path d="M349.7 326.2 V412" stroke="#333" stroke-width="1" stroke-dasharray="4.2,2.3"/>
<path d="M356.2 323.7 V412" stroke="#333" stroke-width="1" stroke-dasharray="4.2,2.3"/>
<path d="M363 322.8 V412" stroke="#333" stroke-width="1" stroke-dasharray="4.2,2.3"/>
<path d="M369.7 319.5 V412" stroke="#333" stroke-width="1" stroke-dasharray="4.2,2.3"/>
<path d="M376.3 321.2 V412" stroke="#333" stroke-width="1" stroke-dasharray="4.2,2.3"/>
<path d="M383.3 321.7 V412" stroke="#333" stroke-width="1" stroke-dasharray="4.2,2.3"/>
<circle cx="349.7" cy="324.2" r="1.9" fill="#151515"/>
<circle cx="356.2" cy="321.7" r="1.9" fill="#151515"/>
<circle cx="363" cy="320.8" r="1.9" fill="#151515"/>
<circle cx="369.7" cy="317.5" r="1.9" fill="#151515"/>
<circle cx="376.3" cy="319.2" r="1.9" fill="#151515"/>
<circle cx="383.3" cy="319.7" r="1.9" fill="#151515"/>
<text x="512" y="460.8" font-size="6.7" fill="#3a3a3a" font-weight="normal" text-anchor="end" textLength="141" lengthAdjust="spacingAndGlyphs" stroke="#3a3a3a" stroke-width="0.05">© 2015 American Association for Cancer Research</text>
<path d="M0 465.5 H520" stroke="#1a1a1a" stroke-width="1"/>
<text x="7.4" y="475" font-size="8.1" fill="#1a1a1a" font-weight="bold" text-anchor="start" font-style="italic">Statistics in CCR</text>
<g fill="none" stroke="#111" stroke-width="1.3" stroke-linejoin="miter"><path d="M484.3,476.4 L487.5,470.2 L490.9,476.1 L494.3,470.2 L497.6,476.4"/><path d="M485.6,474.2 H489.6 M492.9,474.2 H496.8" stroke-width="1.1"/><path d="M504.3,471.2 A3.1,3.25 0 1 0 504.3,475.5"/><path d="M502.3,473.3 H509.6"/><path d="M507.2,476.6 V470.4 H509.5 A1.45,1.45 0 0 1 509.5,473.3 M509.2,473.4 L511.7,476.6"/></g>
<path d="M0.5 0 V480" stroke="#111" stroke-width="1"/>
<path d="M519.5 0 V480" stroke="#2a2a2a" stroke-width="1"/>
<path d="M0 1.5 H520" stroke="#333" stroke-width="1"/>
<path d="M0 479.5 H520" stroke="#222" stroke-width="1"/>
<rect x="1" y="0" width="518" height="1" fill="#b0b0b0"/>
</svg></body></html>
